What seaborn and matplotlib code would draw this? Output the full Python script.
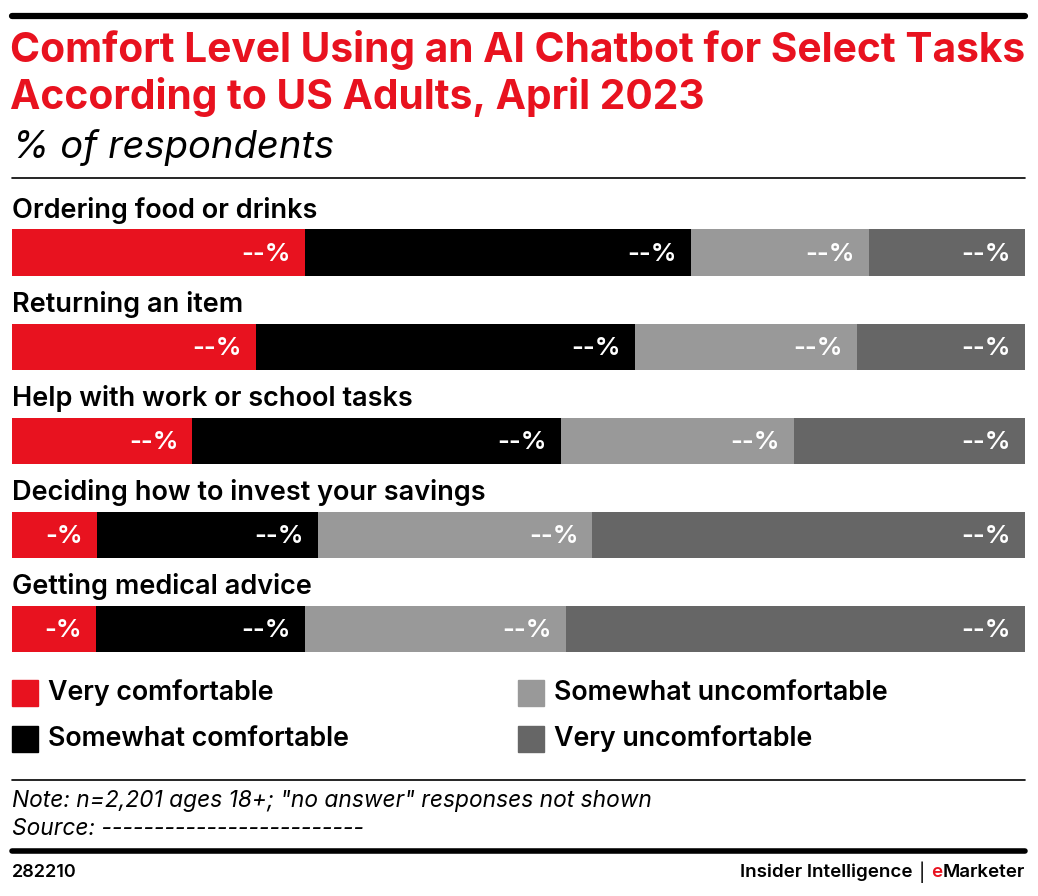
import matplotlib
matplotlib.use("Agg")
import matplotlib.pyplot as plt
import pandas as pd
import seaborn as sns
from matplotlib.patches import Rectangle
from matplotlib.lines import Line2D

# data (% of bar width)
tasks = ["Ordering food or drinks", "Returning an item", "Help with work or school tasks",
         "Deciding how to invest your savings", "Getting medical advice"]
very_comfortable = [28.9, 24.1, 17.8, 8.4, 8.3]
somewhat_comfortable = [38.1, 37.4, 36.4, 21.8, 20.6]
somewhat_uncomfortable = [17.6, 21.9, 23.0, 27.1, 25.8]
very_uncomfortable = [15.4, 16.6, 22.8, 42.7, 45.3]
series_names = ["Very comfortable", "Somewhat comfortable", "Somewhat uncomfortable", "Very uncomfortable"]
value_labels = [["--%", "--%", "--%", "--%"],
                ["--%", "--%", "--%", "--%"],
                ["--%", "--%", "--%", "--%"],
                ["-%", "--%", "--%", "--%"],
                ["-%", "--%", "--%", "--%"]]

colors = ["#E8121F", "#000000", "#999999", "#666666"]
FONT = "Inter"

df = pd.DataFrame({"task": tasks,
                   "s1": very_comfortable, "s2": somewhat_comfortable,
                   "s3": somewhat_uncomfortable, "s4": very_uncomfortable})
df["c1"] = df["s1"]
df["c2"] = df["c1"] + df["s2"]
df["c3"] = df["c2"] + df["s3"]
df["c4"] = df["c3"] + df["s4"]

sns.set_style("white")
plt.rcParams["font.family"] = [FONT, "DejaVu Sans"]

W, H = 1038, 896
fig = plt.figure(figsize=(W / 100, H / 100), dpi=100)

def fx(px):
    return px / W

def fy(py):
    return 1 - py / H

# bars axes
top_px, bot_px = 205.5, 676
ax = fig.add_axes([fx(12), fy(bot_px), fx(1013), (bot_px - top_px) / H])
for col, c in zip(["c4", "c3", "c2", "c1"], colors[::-1]):
    sns.barplot(data=df, y="task", x=col, orient="h", color=c, width=0.49,
                linewidth=0, saturation=1, ax=ax)
ax.set_xlim(0, 100)
ax.set_ylim(4.5, -0.5)
ax.axis("off")

pad = 14 / 1013 * 100
for i, row in df.iterrows():
    ax.text(0, i - 0.45, row["task"], ha="left", va="center", fontsize=19.5,
            fontweight="semibold", color="black")
    for j, col in enumerate(["c1", "c2", "c3", "c4"]):
        ax.text(row[col] - pad, i + 0.02, value_labels[i][j], ha="right", va="center",
                fontsize=18.5, fontweight="semibold", color="white")

# header
fig.add_artist(Line2D([fx(12), fx(1025)], [fy(16), fy(16)], color="black", lw=4.5))
fig.text(fx(10), fy(50), "Comfort Level Using an AI Chatbot for Select Tasks",
         ha="left", va="center", fontsize=29.3, fontweight="bold", color="#E8121F")
fig.text(fx(10), fy(97), "According to US Adults, April 2023",
         ha="left", va="center", fontsize=29.3, fontweight="bold", color="#E8121F")
fig.text(fx(12), fy(147), "% of respondents", ha="left", va="center",
         fontsize=27.5, style="italic", color="black")
fig.add_artist(Line2D([fx(12), fx(1025)], [fy(178), fy(178)], color="black", lw=1.2))

# legend
leg_rows = [693, 739]
leg_cols = [12, 518]
for k, name in enumerate(series_names):
    cx = leg_cols[k // 2]
    cy = leg_rows[k % 2]
    fig.add_artist(Rectangle((fx(cx), fy(cy + 13)), fx(26), 26 / H, color=colors[k],
                             transform=fig.transFigure))
    fig.text(fx(cx + 36), fy(cy), name, ha="left", va="center", fontsize=19.3,
             fontweight="semibold", color="black")

# footer
fig.add_artist(Line2D([fx(12), fx(1025)], [fy(780), fy(780)], color="black", lw=1.2))
fig.text(fx(12), fy(801), "Note: n=2,201 ages 18+; \"no answer\" responses not shown",
         ha="left", va="center", fontsize=16.4, style="italic", color="black")
fig.text(fx(12), fy(829), "Source: -------------------------",
         ha="left", va="center", fontsize=16.4, style="italic", color="black")
fig.add_artist(Line2D([fx(12), fx(1025)], [fy(851), fy(851)], color="black", lw=4))
fig.text(fx(12), fy(872), "282210", ha="left", va="center", fontsize=13,
         fontweight="semibold", color="black")

fs_foot = 13.5
t_m = fig.text(fx(1025), fy(872), "Marketer", ha="right", va="center", fontsize=fs_foot,
               fontweight="semibold", color="black")
fig.canvas.draw()
x_m = t_m.get_window_extent().x0
t_e = fig.text(x_m / W, fy(872), "e", ha="right", va="center", fontsize=fs_foot,
               fontweight="semibold", color="#E8121F")
fig.canvas.draw()
x_e = t_e.get_window_extent().x0
fig.text((x_e - 10) / W, fy(872), "|", ha="center", va="center", fontsize=fs_foot,
         color="black")
fig.text((x_e - 19) / W, fy(872), "Insider Intelligence", ha="right", va="center",
         fontsize=fs_foot, fontweight="semibold", color="black")

fig.savefig("out.png", dpi=100)
